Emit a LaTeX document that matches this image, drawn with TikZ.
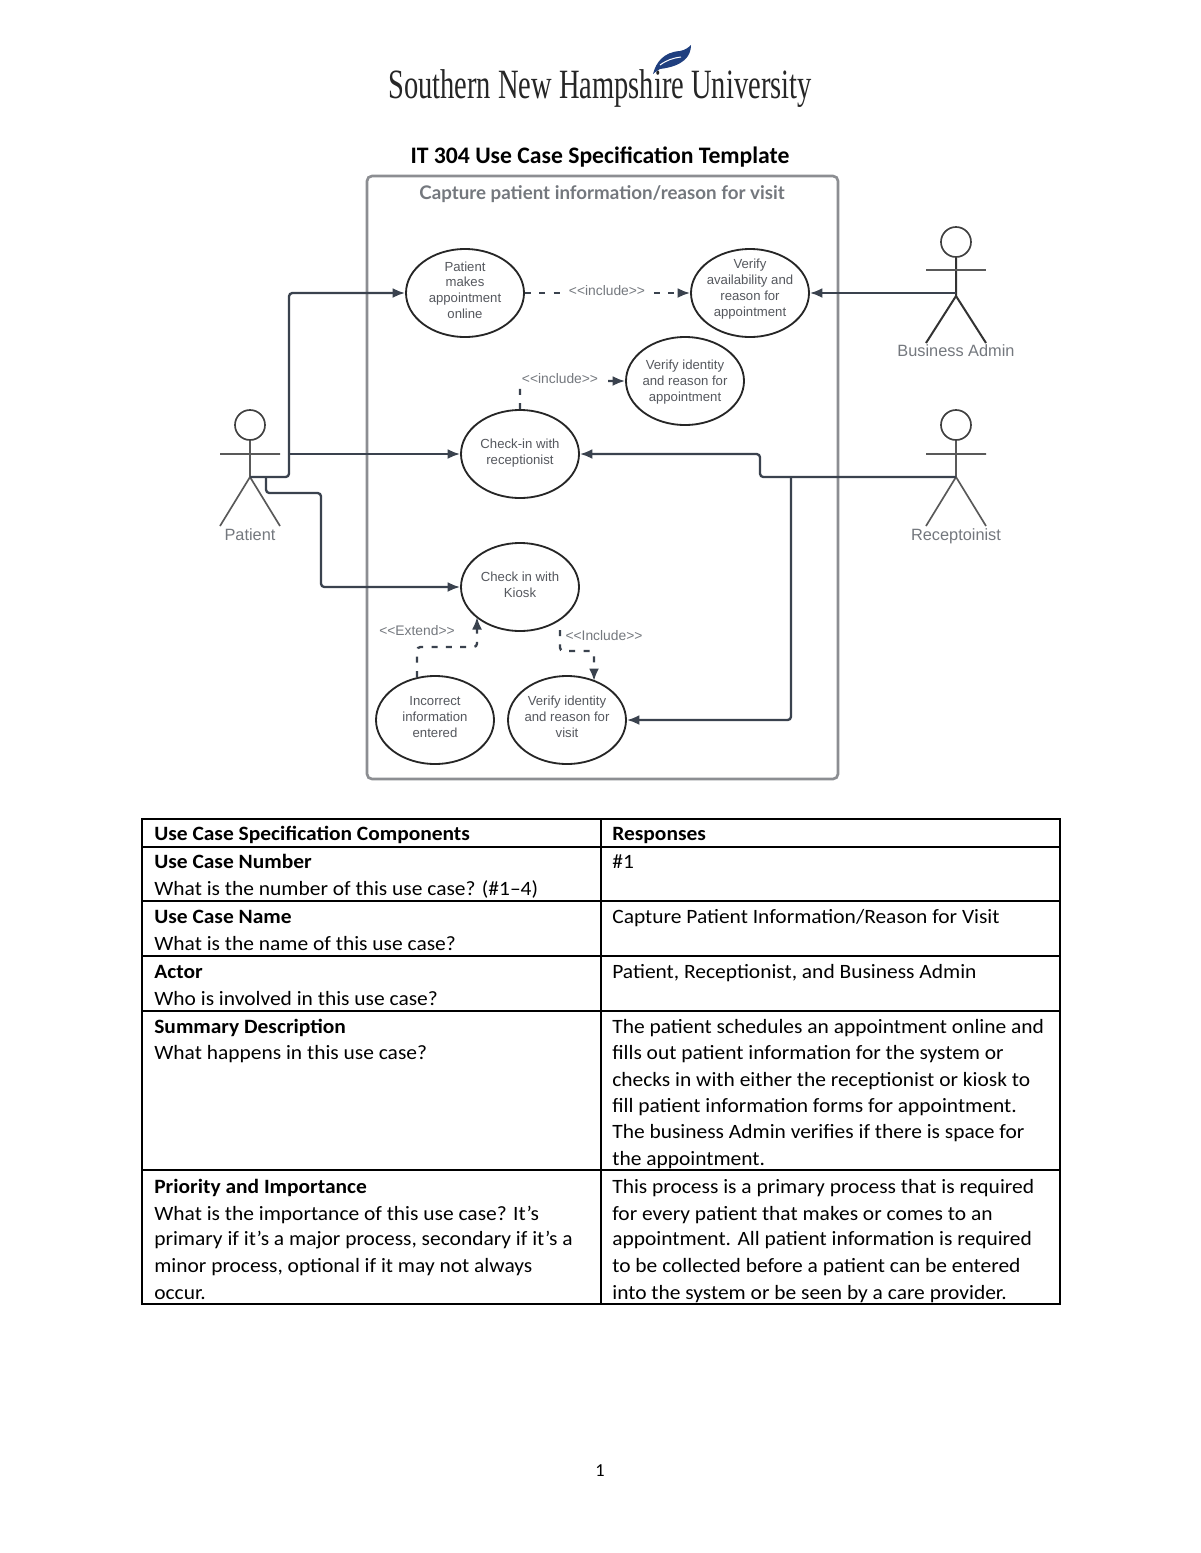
\documentclass[tikz,border=0pt]{standalone}
\usepackage{fontspec}
\setmainfont{Carlito}
\newfontfamily\cellfont[FakeStretch=1.055]{Carlito}
\newfontfamily\logofont{Liberation Serif}
\newfontfamily\arialfont{Liberation Sans}
\newfontfamily\latofont{Lato}
\usetikzlibrary{shapes.geometric,arrows.meta}
\definecolor{lineC}{HTML}{3A424E}
\definecolor{boxC}{HTML}{8C8E92}
\definecolor{labelC}{HTML}{74787E}
\definecolor{caseC}{HTML}{55585E}
\definecolor{logoblue}{HTML}{1F3F7F}
\tikzset{
  usecase/.style={draw=black!85,line width=1.1pt,ellipse,minimum width=70.8pt,minimum height=52.8pt,inner sep=-3pt,align=center,text=caseC,font=\arialfont\fontsize{7.9}{9.5}\selectfont},
  conn/.style={draw=lineC,line width=1.4pt,rounded corners=2pt,-{Latex[length=7.5pt,width=6pt]}},
  dashconn/.style={conn,dash pattern=on 3.6pt off 5pt},
  actorline/.style={draw=black!65,line width=1pt},
  actorhead/.style={draw=black!75,line width=1pt,circle,minimum size=18pt,inner sep=0pt},
  actorlabel/.style={text=labelC,font=\arialfont\fontsize{9.8}{11}\selectfont},
  stereo/.style={text=labelC,font=\arialfont\fontsize{8.3}{9}\selectfont},
  cell/.style={anchor=base west,inner sep=0pt,font=\cellfont\fontsize{12.2}{14}\selectfont},
  cellb/.style={cell,font=\cellfont\fontsize{12.2}{14}\selectfont\bfseries},
  rule/.style={draw=black,line width=1.4pt}
}
\begin{document}
\begin{tikzpicture}[x=0.6pt,y=-0.6pt]
\useasboundingbox (0,0) rectangle (1200,1553);
\fill[white] (0,0) rectangle (1200,1553);

% logo
\node[anchor=base west,inner sep=0pt,text=black!85] (logo) at (388,98) {\resizebox{254pt}{\height}{\logofont\fontsize{25}{28}\selectfont Southern New Hampshire University}};
\fill[logoblue] (653,74) .. controls (656,62) and (664,52) .. (680,51) .. controls (685,50) and (688,48) .. (691,45) .. controls (691,56) and (684,66) .. (660,69) .. controls (658,70) and (655,72) .. (653,74) -- cycle;
\draw[white,line width=.6pt] (660,65) .. controls (667,60) and (673,58) .. (681,57);

\node[anchor=base,inner sep=0pt,font=\fontsize{14.2}{16}\selectfont\bfseries] (title) at (600,163) {IT 304 Use Case Specification Template};

% system boundary
\draw[draw=boxC,line width=1.6pt,rounded corners=3pt] (367,176) rectangle (838,779);
\node[inner sep=0pt,text=labelC,font=\latofont\bfseries\fontsize{11.25}{13}\selectfont] (systitle) at (602,194) {Capture patient information/reason for visit};

% use cases
\node[usecase,text depth=3.6pt] (makes) at (465,293) {Patient\\makes\\appointment\\online};
\node[usecase,text depth=6.4pt] (avail) at (750,293) {Verify\\availability and\\reason for\\appointment};
\node[usecase,text depth=0.4pt] (idappt) at (685,381) {Verify identity\\and reason for\\appointment};
\node[usecase,text depth=2.8pt] (checkin) at (520,454) {Check-in with\\receptionist};
\node[usecase,text depth=3pt] (kiosk) at (520,587) {Check in with\\Kiosk};
\node[usecase,text depth=3.6pt] (incorrect) at (435,720) {Incorrect\\information\\entered};
\node[usecase,text depth=3.6pt] (idvisit) at (567,720) {Verify identity\\and reason for\\visit};

% actors
\node[actorhead] (phead) at (250,425) {};
\coordinate (phip) at (250,477);
\coordinate (parml) at (220,454); \coordinate (parmr) at (280,454);
\coordinate (plegl) at (220,526); \coordinate (plegr) at (280,526);
\draw[actorline] (phead) -- (phip) -- (plegl) (phip) -- (plegr) (parml) -- (parmr);
\node[actorlabel] (plabel) at (250,535) {Patient};

\node[actorhead] (bhead) at (956,242) {};
\coordinate (bhip) at (956,296);
\coordinate (barml) at (926,270); \coordinate (barmr) at (986,270);
\coordinate (blegl) at (926,343); \coordinate (blegr) at (986,343);
\draw[actorline,draw=black!80,line width=1.2pt] (bhead) -- (bhip) -- (blegl) (bhip) -- (blegr);
\draw[actorline] (barml) -- (barmr);
\node[actorlabel] (blabel) at (956,351) {Business Admin};

\node[actorhead] (rhead) at (956,425) {};
\coordinate (rhip) at (956,477);
\coordinate (rarml) at (926,454); \coordinate (rarmr) at (986,454);
\coordinate (rlegl) at (926,526); \coordinate (rlegr) at (986,526);
\draw[actorline] (rhead) -- (rhip) -- (rlegl) (rhip) -- (rlegr) (rarml) -- (rarmr);
\node[actorlabel] (rlabel) at (956,536) {Receptoinist};

% solid connectors
\draw[conn] (phip) -- (289,477) -- (289,293) -- (makes.west);
\draw[conn] (289,454) -- (checkin.west);
\draw[conn] (266,477) -- (266,493) -- (321,493) -- (321,587) -- (kiosk.west);
\draw[conn] (bhip |- avail.east) -- (avail.east);
\draw[conn] (rhip) -- (760,477) -- (760,454) -- (checkin.east);
\draw[conn] (791,477) -- (791,720) -- (idvisit.east);

% dashed connectors
\draw[dashconn] (makes.east) -- (avail.west);
\draw[dashconn] (checkin.north) -- (520,381) -- (idappt.west);
\draw[dashconn] (417,677) -- (417,647) -- (477,647) -- (477,617);
\draw[dashconn] (560,630) -- (560,651) -- (594,651) -- (594,681);

% stereotype labels
\node[stereo,fill=white,inner xsep=1pt,inner ysep=0pt] (inc1) at (607,291) {<<include>>};
\node[stereo,fill=white,inner xsep=1pt,inner ysep=1pt] (inc2) at (560,379) {<<include>>};
\node[stereo] (ext) at (417,631) {<<Extend>>};
\node[stereo] (inc3) at (604,636) {<<Include>>};

% table
\draw[rule] (142,819) rectangle (1060,1304);
\draw[rule] (142,847) -- (1060,847);
\draw[rule] (142,901) -- (1060,901);
\draw[rule] (142,956) -- (1060,956);
\draw[rule] (142,1011) -- (1060,1011);
\draw[rule] (142,1170) -- (1060,1170);
\draw[rule] (601,819) -- (601,1304);

\node[cellb] (t1) at (154,840) {Use Case Specification Components};
\node[cellb] (t2) at (612,840) {Responses};
\node[cellb] (t3) at (154,868) {Use Case Number};
\node[cell] (t4) at (154,895) {What is the number of this use case? (\#1–4)};
\node[cell] (t5) at (612,868) {\#1};
\node[cellb] (t6) at (154,923) {Use Case Name};
\node[cell] (t7) at (154,950) {What is the name of this use case?};
\node[cell] (t8) at (612,923) {Capture Patient Information/Reason for Visit};
\node[cellb] (t9) at (154,978) {Actor};
\node[cell] (t10) at (154,1005) {Who is involved in this use case?};
\node[cell] (t11) at (612,978) {Patient, Receptionist, and Business Admin};
\node[cellb] (t12) at (154,1033) {Summary Description};
\node[cell] (t13) at (154,1059) {What happens in this use case?};
\node[cell] (t14) at (612,1033) {The patient schedules an appointment online and};
\node[cell] (t15) at (612,1059) {fills out patient information for the system or};
\node[cell] (t16) at (612,1086) {checks in with either the receptionist or kiosk to};
\node[cell] (t17) at (612,1112) {fill patient information forms for appointment.};
\node[cell] (t18) at (612,1138) {The business Admin verifies if there is space for};
\node[cell] (t19) at (612,1165) {the appointment.};
\node[cellb] (t20) at (154,1193) {Priority and Importance};
\node[cell] (t21) at (154,1220) {What is the importance of this use case? It’s};
\node[cell] (t22) at (154,1245) {primary if it’s a major process, secondary if it’s a};
\node[cell] (t23) at (154,1272) {minor process, optional if it may not always};
\node[cell] (t24) at (154,1299) {occur.};
\node[cell] (t25) at (612,1193) {This process is a primary process that is required};
\node[cell] (t26) at (612,1220) {for every patient that makes or comes to an};
\node[cell] (t27) at (612,1245) {appointment. All patient information is required};
\node[cell] (t28) at (612,1272) {to be collected before a patient can be entered};
\node[cell] (t29) at (612,1299) {into the system or be seen by a care provider.};
\node[anchor=base,inner sep=0pt,font=\fontsize{11}{13}\selectfont] (pagenum) at (600,1476) {1};
\end{tikzpicture}
\end{document}
